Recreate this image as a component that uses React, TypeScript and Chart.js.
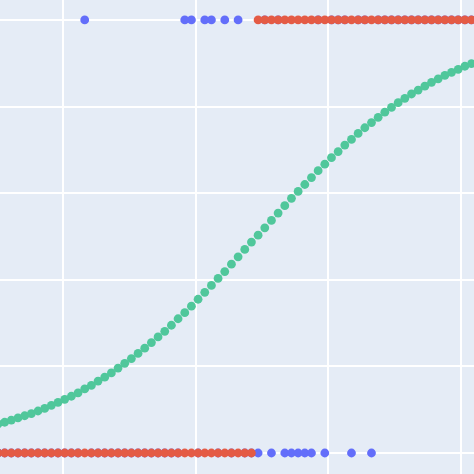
import React, { useEffect, useRef } from "react";
import { Chart, registerables } from "chart.js";

Chart.register(...registerables);

// sample positions (index along the feature axis)
const sampleX = [
  -1, 0, 1, 2, 3, 4, 5, 6, 7, 8,
  9, 10, 11, 12, 13, 14, 15, 16, 17, 18,
  19, 20, 21, 22, 23, 24, 25, 26, 27, 28,
  29, 30, 31, 32, 33, 34, 35, 36, 37, 38,
  39, 40, 41, 42, 43, 44, 45, 46, 47, 48,
  49, 50, 51, 52, 53, 54, 55, 56, 57, 58,
  59, 60, 61, 62, 63, 64, 65, 66, 67, 68,
  69, 70, 71,
];

// predicted probability (green)
const probability = [
  0.067, 0.071, 0.076, 0.081, 0.086, 0.091, 0.097, 0.103, 0.11, 0.117,
  0.124, 0.131, 0.139, 0.148, 0.156, 0.166, 0.175, 0.185, 0.196, 0.207,
  0.218, 0.23, 0.242, 0.255, 0.268, 0.281, 0.295, 0.31, 0.324, 0.339,
  0.355, 0.371, 0.387, 0.403, 0.419, 0.436, 0.453, 0.47, 0.487, 0.503,
  0.52, 0.537, 0.554, 0.571, 0.588, 0.604, 0.62, 0.636, 0.652, 0.667,
  0.682, 0.696, 0.711, 0.724, 0.738, 0.751, 0.763, 0.775, 0.787, 0.798,
  0.809, 0.819, 0.829, 0.838, 0.847, 0.856, 0.864, 0.872, 0.879, 0.886,
  0.893, 0.899, 0.905,
];

// predicted class (red)
const predicted = [
  0, 0, 0, 0, 0, 0, 0, 0, 0, 0,
  0, 0, 0, 0, 0, 0, 0, 0, 0, 0,
  0, 0, 0, 0, 0, 0, 0, 0, 0, 0,
  0, 0, 0, 0, 0, 0, 0, 0, 0, 1,
  1, 1, 1, 1, 1, 1, 1, 1, 1, 1,
  1, 1, 1, 1, 1, 1, 1, 1, 1, 1,
  1, 1, 1, 1, 1, 1, 1, 1, 1, 1,
  1, 1, 1,
];

// actual class (blue)
const actual = [
  0, 0, 0, 0, 0, 0, 0, 0, 0, 0,
  0, 0, 0, 1, 0, 0, 0, 0, 0, 0,
  0, 0, 0, 0, 0, 0, 0, 0, 1, 1,
  0, 1, 1, 0, 1, 0, 1, 0, 0, 0,
  1, 0, 1, 0, 0, 0, 0, 0, 1, 0,
  1, 1, 1, 0, 1, 1, 0, 1, 1, 1,
  1, 1, 1, 1, 1, 1, 1, 1, 1, 1,
  1, 1, 1,
];

const xGridValues = [8.75, 28.65, 48.55, 68.45];
const yGridValues = [0, 0.2, 0.4, 0.6, 0.8, 1];

const toPoints = (ys: number[]) => ys.map((y, i) => ({ x: sampleX[i], y }));

const App = () => {
  const canvasRef = useRef<HTMLCanvasElement>(null);
  const chartRef = useRef<Chart | null>(null);

  useEffect(() => {
    if (!canvasRef.current) return;
    const ctx = canvasRef.current.getContext("2d");
    if (!ctx) return;

    if (chartRef.current) chartRef.current.destroy();

    const pointStyle = {
      showLine: false,
      clip: false,
      pointRadius: 4.4,
      pointHoverRadius: 4.4,
      pointBorderWidth: 0,
    };

    chartRef.current = new Chart(ctx, {
      type: "scatter",
      data: {
        datasets: [
          {
            label: "predicted",
            data: toPoints(predicted),
            backgroundColor: "#E45B45",
            borderColor: "#E45B45",
            ...pointStyle,
          },
          {
            label: "actual",
            data: toPoints(actual),
            backgroundColor: "#636EFA",
            borderColor: "#636EFA",
            ...pointStyle,
          },
          {
            label: "probability",
            data: toPoints(probability),
            backgroundColor: "#50C79B",
            borderColor: "#50C79B",
            ...pointStyle,
          },
        ],
      },
      options: {
        responsive: true,
        maintainAspectRatio: false,
        animation: false,
        layout: { padding: 0, autoPadding: false },
        plugins: {
          legend: { display: false },
          tooltip: { enabled: false },
        },
        scales: {
          x: {
            type: "linear",
            min: -0.7,
            max: 70.37,
            afterBuildTicks: (scale: any) => {
              scale.ticks = xGridValues.map((value) => ({ value }));
            },
            ticks: { display: false },
            grid: { color: "#ffffff", lineWidth: 2, drawTicks: false },
            border: { display: false },
          },
          y: {
            type: "linear",
            min: -0.0485,
            max: 1.046,
            afterBuildTicks: (scale: any) => {
              scale.ticks = yGridValues.map((value) => ({ value }));
            },
            ticks: { display: false },
            grid: { color: "#ffffff", lineWidth: 2, drawTicks: false },
            border: { display: false },
          },
        },
      },
    } as any);

    return () => {
      if (chartRef.current) {
        chartRef.current.destroy();
        chartRef.current = null;
      }
    };
  }, []);

  return (
    <div
      style={{
        position: "absolute",
        left: 0,
        top: 0,
        width: 474,
        height: 474,
        background: "#E5ECF6",
      }}
    >
      <canvas ref={canvasRef}></canvas>
    </div>
  );
};

export default App;
